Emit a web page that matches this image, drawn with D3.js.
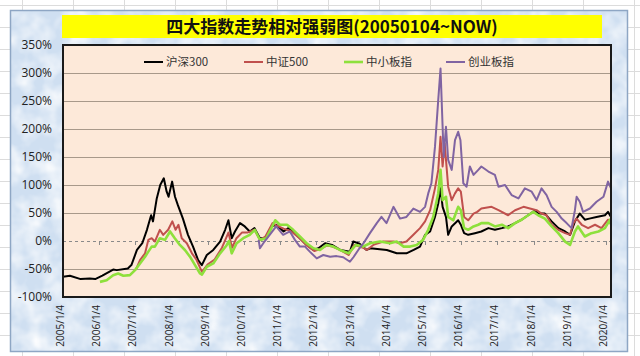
<!DOCTYPE html>
<html><head><meta charset="utf-8">
<script src="https://cdn.jsdelivr.net/npm/d3@7"></script>
<style>html,body{margin:0;padding:0;background:#fff;} svg{display:block}</style>
</head><body><svg id="c" width="640" height="356"></svg>
<script>
// ---------------- DATA ----------------
const seriesNames = ["沪深300", "中证500", "中小板指", "创业板指"];
const yTicks = [-100, -50, 0, 50, 100, 150, 200, 250, 300, 350];
const xTickLabels = ["2005/1/4","2006/1/4","2007/1/4","2008/1/4","2009/1/4","2010/1/4","2011/1/4","2012/1/4",
  "2013/1/4","2014/1/4","2015/1/4","2016/1/4","2017/1/4","2018/1/4","2019/1/4","2020/1/4"];
const dateStart = "2005-01-04", dateEnd = "2020-02-24";

const hs300Dates = ["2005-01-04","2005-03-15","2005-07-01","2005-10-01","2005-11-25","2006-02-05","2006-05-25","2006-07-01","2006-10-20","2006-11-25",
"2007-01-20","2007-03-15","2007-05-01","2007-06-12","2007-07-01","2007-08-08","2007-09-12","2007-10-18","2007-11-16","2007-12-05",
"2008-01-10","2008-02-08","2008-03-08","2008-04-28","2008-06-18","2008-08-08","2008-09-28","2008-11-05","2008-12-25","2009-02-28",
"2009-05-08","2009-06-28","2009-07-31","2009-09-02","2009-10-05","2009-11-25","2010-01-12","2010-03-03","2010-04-20","2010-06-14",
"2010-08-18","2010-10-08","2010-11-25","2011-02-08","2011-03-28","2011-05-15","2011-07-22","2011-09-28","2011-12-05","2012-01-25",
"2012-04-01","2012-06-10","2012-09-01","2012-12-08","2013-01-10","2013-03-15","2013-05-25","2013-07-01","2013-12-15","2014-03-25",
"2014-07-01","2014-09-12","2014-11-15","2015-01-05","2015-02-25","2015-04-15","2015-05-18","2015-06-10","2015-07-01","2015-08-04",
"2015-08-26","2015-10-01","2015-12-05","2016-01-01","2016-02-03","2016-03-15","2016-05-22","2016-07-26","2016-10-05","2016-12-10",
"2017-02-18","2017-04-22","2017-07-01","2017-09-05","2017-11-10","2018-01-20","2018-02-20","2018-04-28","2018-07-05","2018-09-12",
"2018-11-18","2019-01-07","2019-02-25","2019-04-15","2019-06-05","2019-07-20","2019-10-01","2019-12-25","2020-01-25","2020-02-24"];
const hs300Values = [-64,-62,-68,-67,-68,-62,-51,-52,-49,-43,
-16,-4,20,46,35,76,100,112,88,79,
106,79,64,40,11,-10,-34,-43,-25,-16,
-1,20,37,5,17,32,26,17,23,5,
5,26,29,17,23,17,5,-7,-16,-13,
-4,-7,-16,-19,-1,-5,-16,-13,-16,-22,
-22,-16,-10,11,17,43,67,94,61,43,
11,26,37,29,14,11,14,17,23,20,
23,26,32,38,46,55,49,49,35,23,
17,11,35,49,38,40,43,46,52,43];

const zz500Dates = ["2007-01-15","2007-02-20","2007-04-12","2007-05-15","2007-06-18","2007-07-20","2007-09-08","2007-10-12","2007-12-01","2008-01-12",
"2008-02-14","2008-03-14","2008-04-16","2008-06-06","2008-07-28","2008-09-13","2008-11-06","2009-01-01","2009-03-14","2009-05-27",
"2009-07-31","2009-09-06","2009-10-20","2009-12-14","2010-02-06","2010-04-20","2010-06-14","2010-08-08","2010-10-20","2010-11-25",
"2011-02-08","2011-04-20","2011-07-20","2011-10-01","2011-12-14","2012-02-06","2012-04-20","2012-06-14","2012-08-29","2012-11-25",
"2013-01-20","2013-04-20","2013-05-27","2013-08-01","2013-11-10","2014-02-20","2014-04-27","2014-07-01","2014-09-09","2014-11-15",
"2015-01-05","2015-02-25","2015-04-15","2015-05-18","2015-06-10","2015-07-01","2015-07-22","2015-08-26","2015-10-01","2015-11-03",
"2015-12-05","2016-01-01","2016-02-03","2016-03-15","2016-05-08","2016-06-14","2016-07-26","2016-11-06","2017-01-15","2017-04-22",
"2017-07-01","2017-09-24","2017-11-28","2018-02-03","2018-03-25","2018-05-15","2018-07-05","2018-09-10","2018-11-18","2019-01-07",
"2019-02-10","2019-03-14","2019-05-05","2019-07-08","2019-09-16","2019-11-20","2020-01-25","2020-02-24"];
const zz500Values = [-49,-34,-22,2,5,-1,20,11,20,35,
20,29,5,-4,-22,-34,-55,-42,-33,-12,
15,-12,5,15,15,20,2,8,32,28,
22,18,5,-8,-18,-15,-8,-10,-16,-25,
-7,-12,-16,-7,-1,-1,-4,-1,11,23,
35,55,94,127,186,133,174,97,73,85,
94,88,43,37,49,52,58,61,55,46,
55,61,58,55,49,46,29,20,14,11,
32,40,29,23,29,23,38,35];

const smeDates = ["2006-01-12","2006-03-20","2006-05-25","2006-07-15","2006-09-05","2006-11-10","2007-01-01","2007-02-20","2007-04-12","2007-05-15",
"2007-06-18","2007-07-20","2007-09-08","2007-10-30","2007-12-20","2008-02-06","2008-03-28","2008-05-18","2008-07-08","2008-08-28",
"2008-10-18","2008-11-06","2008-12-25","2009-02-28","2009-05-08","2009-07-12","2009-08-05","2009-09-02","2009-10-22","2009-12-28",
"2010-03-03","2010-04-23","2010-06-14","2010-08-18","2010-10-08","2010-11-15","2011-01-01","2011-03-14","2011-05-15","2011-07-22",
"2011-09-28","2011-12-05","2012-02-10","2012-04-16","2012-06-24","2012-08-29","2012-11-25","2013-02-06","2013-04-20","2013-06-28",
"2013-10-08","2014-01-15","2014-03-25","2014-06-03","2014-08-08","2014-10-12","2014-12-16","2015-02-06","2015-03-28","2015-05-18",
"2015-06-10","2015-07-01","2015-08-04","2015-08-26","2015-10-16","2015-12-05","2016-01-01","2016-02-03","2016-03-15","2016-05-08",
"2016-06-25","2016-07-26","2016-10-05","2016-12-10","2017-02-18","2017-04-22","2017-07-01","2017-09-05","2017-11-10","2018-01-01",
"2018-02-20","2018-04-28","2018-07-05","2018-09-10","2018-11-18","2019-01-07","2019-02-25","2019-03-28","2019-06-05","2019-08-10",
"2019-10-20","2019-12-25","2020-02-14","2020-02-24"];
const smeValues = [-73,-70,-61,-58,-62,-61,-52,-40,-28,-19,
-10,-10,5,2,17,5,-7,-16,-28,-43,
-58,-60,-46,-40,-22,-8,0,-22,-4,5,
11,20,2,5,23,37,29,29,20,8,
-4,-13,-16,-7,-10,-16,-22,-7,-10,-4,
-1,-4,-1,-10,-10,-7,2,20,43,85,
127,73,79,43,37,61,55,23,20,26,
29,32,32,26,29,23,32,38,46,52,
46,40,26,14,-1,-7,17,26,8,14,
17,23,38,29];

const chinextDates = ["2010-06-01","2010-06-14","2010-07-30","2010-11-25","2011-02-03","2011-04-12","2011-06-02","2011-07-22","2011-09-12","2011-10-30",
"2012-01-08","2012-03-14","2012-05-22","2012-07-26","2012-10-01","2012-12-08","2013-01-12","2013-03-14","2013-04-24","2013-06-28",
"2013-09-05","2013-10-22","2013-12-12","2014-02-20","2014-04-27","2014-07-01","2014-09-09","2014-11-15","2015-01-05","2015-02-06",
"2015-03-10","2015-04-15","2015-05-18","2015-06-10","2015-07-01","2015-07-12","2015-08-04","2015-08-26","2015-10-01","2015-11-03",
"2015-12-05","2015-12-28","2016-01-26","2016-02-28","2016-04-01","2016-05-08","2016-06-25","2016-07-26","2016-10-05","2016-12-10",
"2017-01-15","2017-03-22","2017-05-27","2017-08-04","2017-10-08","2017-12-16","2018-02-03","2018-03-25","2018-05-15","2018-07-05",
"2018-08-25","2018-10-15","2018-12-03","2019-01-22","2019-02-25","2019-03-14","2019-04-15","2019-05-18","2019-07-26","2019-10-01",
"2019-12-10","2020-01-25","2020-02-24"];
const chinextValues = [2,-13,-1,26,11,17,2,-10,-10,-19,
-31,-25,-28,-27,-29,-37,-29,-13,-4,14,
32,43,32,61,40,43,58,52,61,85,
103,168,252,308,204,150,204,145,127,180,
195,180,103,97,133,118,127,133,124,118,
97,100,82,76,94,88,73,94,82,61,
52,40,32,23,55,79,70,52,58,70,
79,106,94];

const seriesColors = ["#000000", "#c0504d", "#8ee03c", "#8064a2"];

// ---------------- CHART ----------------
const parse = d3.timeParse("%Y-%m-%d");
const parseTick = d3.timeParse("%Y/%m/%d");
const svg = d3.select("#c");
const W = 640, H = 356;

function zip(ds, vs) { const n = Math.min(ds.length, vs.length); const o = []; for (let i = 0; i < n; i++) o.push({date: parse(ds[i]), v: vs[i]}); return o; }
const series = [zip(hs300Dates, hs300Values), zip(zz500Dates, zz500Values), zip(smeDates, smeValues), zip(chinextDates, chinextValues)];

const defs = svg.append("defs");
const f = defs.append("filter").attr("id", "tex").attr("x", 0).attr("y", 0).attr("width", 1).attr("height", 1);
f.append("feTurbulence").attr("type", "fractalNoise").attr("baseFrequency", "0.045").attr("numOctaves", 3).attr("seed", 4).attr("result", "n");
f.append("feColorMatrix").attr("in", "n").attr("type", "matrix")
  .attr("values", "0 0 0 0 1  0 0 0 0 1  0 0 0 0 1  1.6 0 0 0 -0.55");
defs.append("clipPath").attr("id", "pc").append("rect").attr("x", 63).attr("y", 45).attr("width", 548).attr("height", 252);

// spreadsheet background grid
svg.append("rect").attr("width", W).attr("height", H).attr("fill", "#ffffff");
const sg = svg.append("g").attr("stroke", "#dcdcdc").attr("stroke-width", 1);
d3.range(5.5, H, 22).forEach(yy => sg.append("line").attr("x1", 0).attr("x2", W).attr("y1", yy).attr("y2", yy));
d3.range(22.5, W, 51).forEach(xx => sg.append("line").attr("x1", xx).attr("x2", xx).attr("y1", 0).attr("y2", H));

// chart area
svg.append("rect").attr("x", 10.5).attr("y", 10.5).attr("width", 617).attr("height", 341).attr("fill", "#cfdff1");
svg.append("rect").attr("x", 10.5).attr("y", 10.5).attr("width", 617).attr("height", 341).attr("filter", "url(#tex)");
svg.append("rect").attr("x", 10.5).attr("y", 10.5).attr("width", 617).attr("height", 341).attr("fill", "none").attr("stroke", "#8ea6c4").attr("stroke-width", 1.5);

// title
svg.append("rect").attr("x", 62).attr("y", 15).attr("width", 540).attr("height", 23).attr("fill", "#ffff00");
svg.append("text").attr("x", 332).attr("y", 27).attr("dy", "0.36em").attr("text-anchor", "middle")
  .style("font-family", "'Noto Sans CJK SC', 'Noto Sans', sans-serif").style("font-weight", 700).style("font-size", "17px").attr("fill", "#111")
  .text("四大指数走势相对强弱图(20050104~NOW)");

// plot
const P = {l: 63, r: 611, t: 45, b: 297};
const x = d3.scaleTime().domain([parse(dateStart), parse(dateEnd)]).range([P.l, P.r]);
const y = d3.scaleLinear().domain([-100, 350]).range([P.b, P.t]);

svg.append("rect").attr("x", P.l).attr("y", P.t).attr("width", P.r - P.l).attr("height", P.b - P.t).attr("fill", "#fde9d9");

const grid = svg.append("g");
grid.selectAll("line").data(yTicks.filter(d => d !== 0 && d !== -100 && d !== 350)).join("line")
  .attr("x1", P.l).attr("x2", P.r).attr("y1", d => Math.round(y(d)) + 0.5).attr("y2", d => Math.round(y(d)) + 0.5)
  .attr("stroke", "#a8998a").attr("stroke-width", 1);
grid.append("line").attr("x1", P.l).attr("x2", P.r).attr("y1", Math.round(y(0)) + 0.5).attr("y2", Math.round(y(0)) + 0.5)
  .attr("stroke", "#8a8a8a").attr("stroke-width", 1).attr("stroke-dasharray", "3,3");

const xTickDates = xTickLabels.map(parseTick);
grid.selectAll(".zt").data(xTickDates).join("line").attr("class", "zt")
  .attr("x1", d => Math.round(x(d)) + 0.5).attr("x2", d => Math.round(x(d)) + 0.5)
  .attr("y1", Math.round(y(0))).attr("y2", Math.round(y(0)) + 4).attr("stroke", "#8a8a8a");

// y axis labels
const ya = svg.append("g").attr("transform", `translate(${P.l},0)`)
  .call(d3.axisLeft(y).tickValues(yTicks).tickFormat(d => d + "%").tickSize(0).tickPadding(11));
ya.select(".domain").remove();
ya.selectAll("text").style("font-family", "'Open Sans', 'DejaVu Sans', sans-serif").style("font-size", "12px").attr("fill", "#222");

// x axis labels
const xa = svg.append("g").attr("transform", `translate(0,${P.b})`)
  .call(d3.axisBottom(x).tickValues(xTickDates).tickFormat((d, i) => xTickLabels[i]).tickSize(0));
xa.select(".domain").remove();
xa.selectAll("text").attr("transform", "rotate(-90)").attr("x", -8).attr("y", 0).attr("dy", "0.05em")
  .style("text-anchor", "end").style("font-family", "'Open Sans', 'DejaVu Sans', sans-serif").style("font-size", "10px").attr("fill", "#222");

// series
const line = d3.line().x(d => x(d.date)).y(d => y(d.v)).curve(d3.curveLinear);
const lg = svg.append("g").attr("clip-path", "url(#pc)");
series.forEach((s, i) => {
  lg.append("path").datum(s).attr("d", line).attr("fill", "none").attr("stroke", seriesColors[i])
    .attr("stroke-width", i === 2 ? 2.6 : 2).attr("stroke-linejoin", "round");
});

// plot border
svg.append("rect").attr("x", P.l).attr("y", P.t).attr("width", P.r - P.l).attr("height", P.b - P.t)
  .attr("fill", "none").attr("stroke", "#1a1a1a").attr("stroke-width", 2);

// legend
const legX = [144, 244, 344, 446];
const leg = svg.append("g");
seriesNames.forEach((n, i) => {
  leg.append("line").attr("x1", legX[i]).attr("x2", legX[i] + 19).attr("y1", 62).attr("y2", 62)
    .attr("stroke", seriesColors[i]).attr("stroke-width", i === 2 ? 2.6 : 2);
  leg.append("text").attr("x", legX[i] + 22).attr("y", 62).attr("dy", "0.36em")
    .style("font-family", "'Noto Sans CJK SC', sans-serif").style("font-size", "11.5px").attr("fill", "#333").text(n);
});
</script>
</body></html>
